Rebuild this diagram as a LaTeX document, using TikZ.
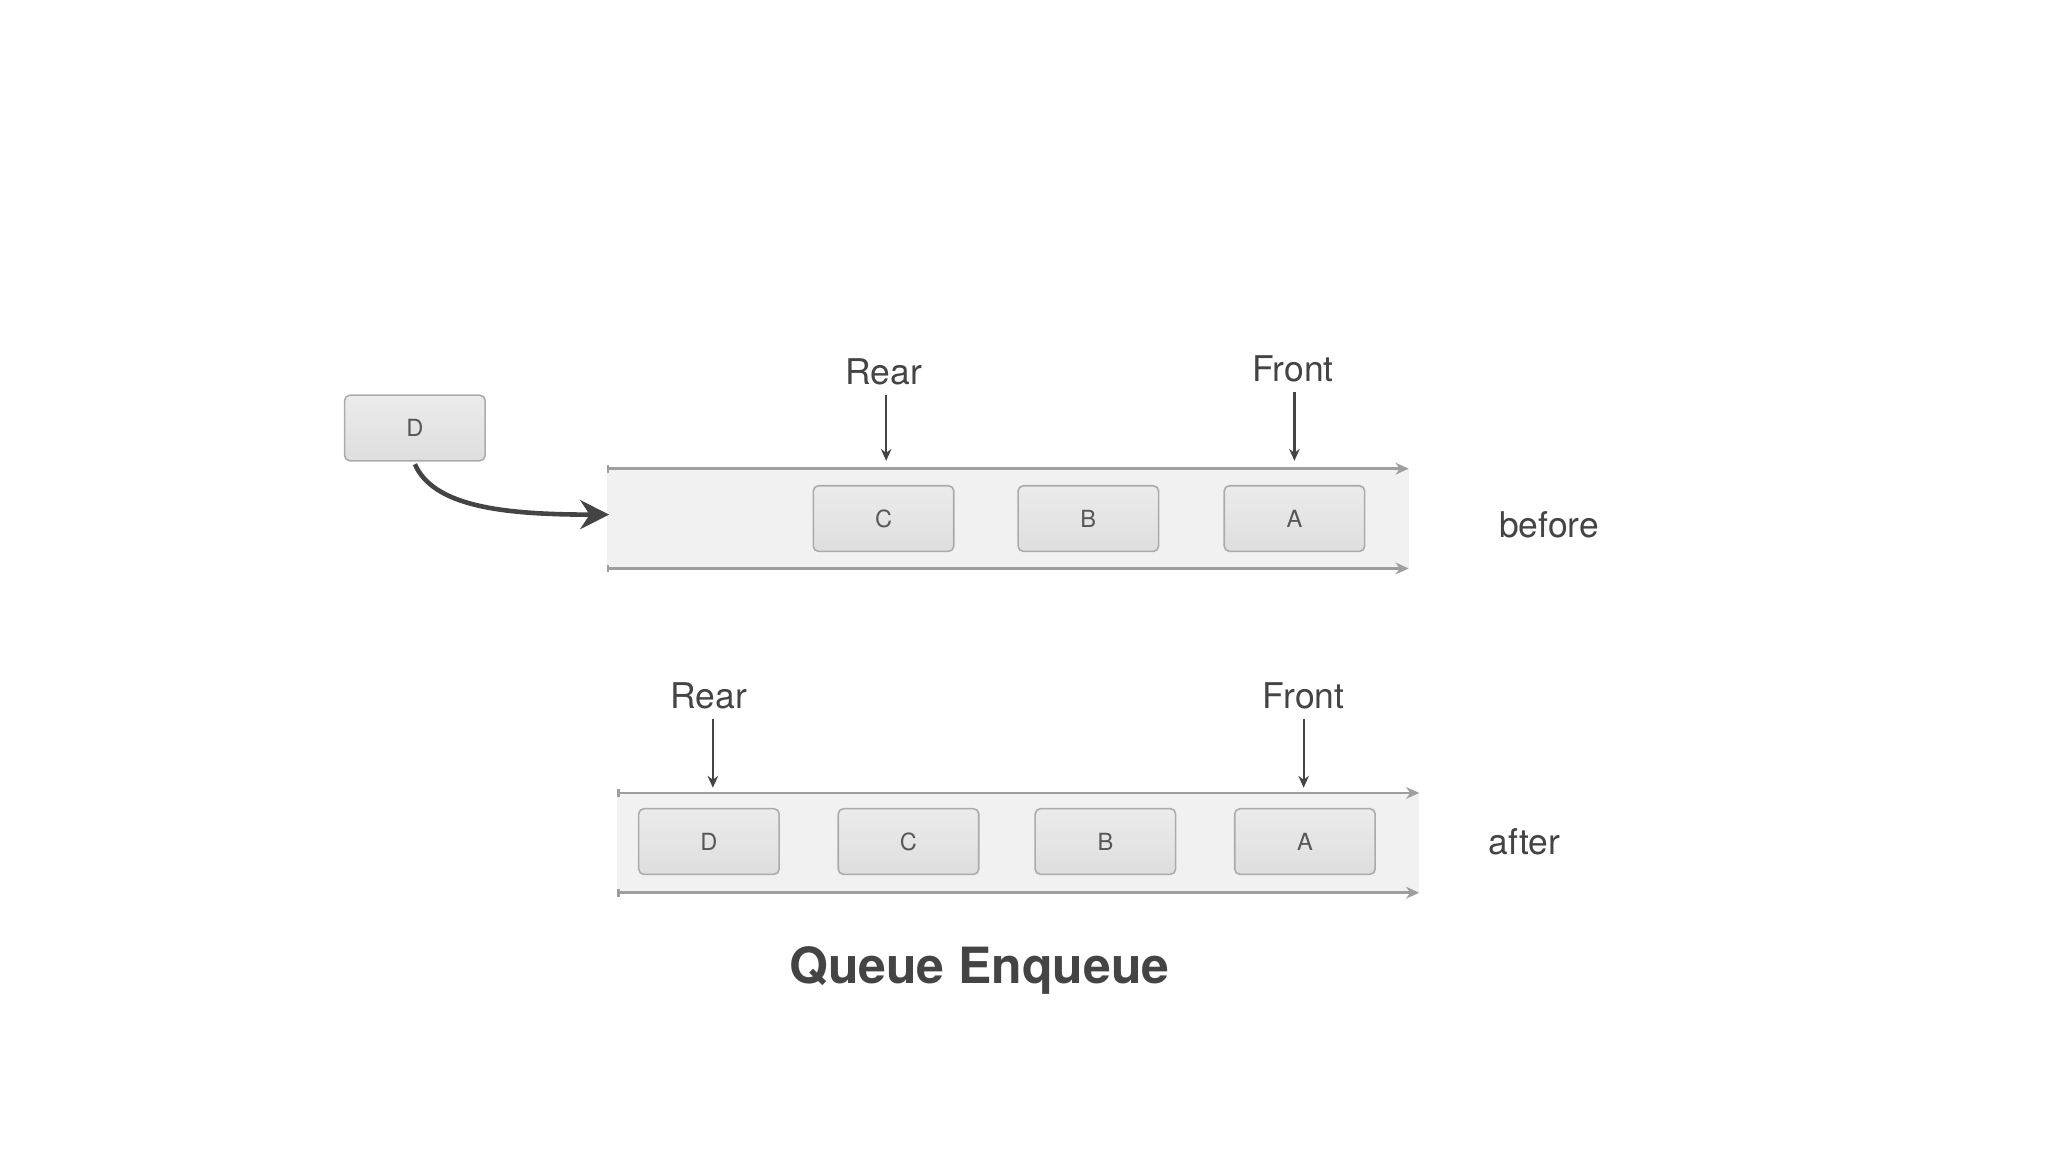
\documentclass[tikz,border=0pt]{standalone}
\usepackage{fontspec}
\setmainfont{TeX Gyre Heros}
\usetikzlibrary{arrows.meta}
\definecolor{boxfill}{HTML}{DEDEDE}
\definecolor{boxline}{HTML}{ABABAB}
\definecolor{band}{HTML}{F1F1F1}
\definecolor{rail}{HTML}{9E9E9E}
\definecolor{dark}{HTML}{444444}
\begin{document}
\begin{tikzpicture}[x=1pt,y=-1pt,
  item/.style={draw=boxline,line width=1.2pt,top color=boxfill!60,bottom color=boxfill,rounded corners=4pt,minimum width=107pt,minimum height=50pt,inner sep=0pt,font=\fontsize{18}{18}\selectfont,text=dark!90},
  lbl/.style={font=\fontsize{27}{27}\selectfont,text=dark},
  ptr/.style={draw=dark,line width=1.6pt,-{Stealth[length=9pt,width=8pt]}},
  railst/.style={draw=rail,line width=2pt,{Bar[width=6pt]}-{Stealth[length=10pt,width=9pt]}}]
\useasboundingbox (0,0) rectangle (1560,878);
\fill[white] (0,0) rectangle (1560,878);
% before
\fill[band] (462,357) rectangle (1073,433);
\coordinate (b1l) at (462,357); \coordinate (b1r) at (1073,357);
\coordinate (b2l) at (462,433); \coordinate (b2r) at (1073,433);
\draw[railst] (b1l) -- (b1r);
\draw[railst] (b2l) -- (b2r);
\node[item] (d0) at (316,326) {D};
\node[item] (c1) at (673,395) {C};
\node[item] (b1) at (829,395) {B};
\node[item] (a1) at (986,395) {A};
\node[lbl] (r1) at (673,283) {Rear};
\node[lbl] (f1) at (985,281) {Front};
\coordinate (r1e) at (675,351); \coordinate (f1e) at (986,351);
\draw[ptr] (r1.south -| r1e) ++(0,4) -- (r1e);
\draw[ptr] (f1.south -| f1e) ++(0,4) -- (f1e);
\coordinate (ins) at (464,392);
\draw[draw=dark,line width=3.5pt,-{Stealth[length=22pt,width=22pt]}] (d0.south) ++(0,2) .. controls (330,385) and (380,392) .. (ins);
\node[lbl] (bef) at (1180,400) {before};
% after
\fill[band] (470,604) rectangle (1081,680);
\coordinate (a1l) at (470,604); \coordinate (a1r) at (1081,604);
\coordinate (a2l) at (470,680); \coordinate (a2r) at (1081,680);
\draw[railst] (a1l) -- (a1r);
\draw[railst] (a2l) -- (a2r);
\node[item] (d2) at (540,641) {D};
\node[item] (c2) at (692,641) {C};
\node[item] (b2) at (842,641) {B};
\node[item] (a2) at (994,641) {A};
\node[lbl] (r2) at (540,530) {Rear};
\node[lbl] (f2) at (993,530) {Front};
\coordinate (r2e) at (543,600); \coordinate (f2e) at (993,600);
\draw[ptr] (r2.south -| r2e) ++(0,4) -- (r2e);
\draw[ptr] (f2.south -| f2e) ++(0,4) -- (f2e);
\node[lbl] (aft) at (1161,641) {after};
\node[font=\fontsize{38}{38}\selectfont\bfseries,text=dark] (title) at (746,739) {Queue Enqueue};
\end{tikzpicture}
\end{document}
